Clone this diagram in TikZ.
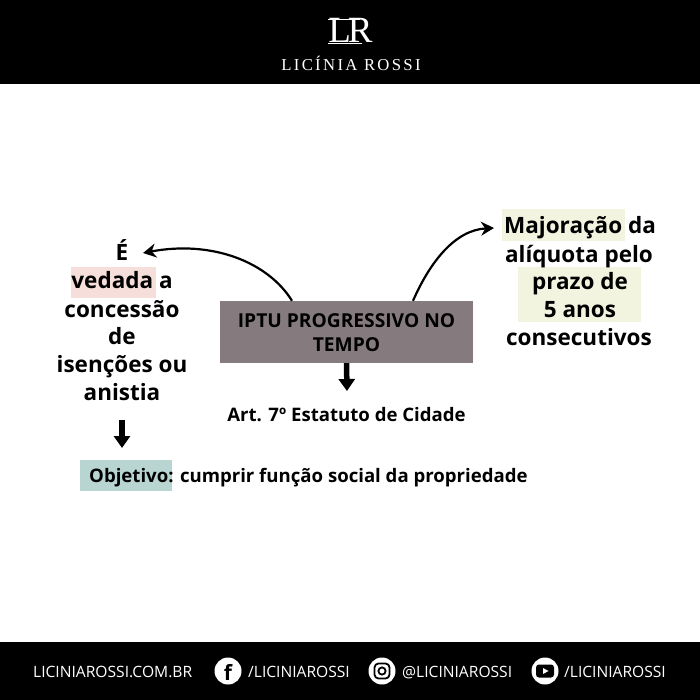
\documentclass[tikz,border=0pt]{standalone}
\usepackage{fontspec}
\setmainfont{Open Sans}
\newfontfamily\serifname[LetterSpace=14]{Liberation Serif}
\newfontfamily\logofont{Liberation Serif}
\newfontfamily\footfont{Open Sans}
\usetikzlibrary{arrows.meta}
\definecolor{boxgray}{HTML}{857B7E}
\definecolor{pinkhl}{HTML}{F6DFDA}
\definecolor{greenhl}{HTML}{B9D5D1}
\definecolor{limehl}{HTML}{F2F4E0}
\tikzset{
  bigtext/.style={anchor=base, inner sep=0pt, font=\fontsize{22.5}{26}\selectfont\bfseries},
  midtext/.style={anchor=base, inner sep=0pt, font=\fontsize{18.6}{22}\selectfont\bfseries},
  boxtext/.style={anchor=base, inner sep=0pt, font=\fontsize{19.2}{22}\selectfont\bfseries},
  foottext/.style={anchor=base west, inner sep=0pt, text=white, font=\fontsize{15.6}{18}\selectfont\footfont},
  iconback/.style={circle, fill=white, minimum size=27pt, inner sep=0pt},
  curved/.style={line width=2.2pt, -{Stealth[length=13pt, width=14pt]}},
  downarrow/.style={line width=5.5pt, -{Triangle[length=12pt, width=16pt]}}
}
\begin{document}
\begin{tikzpicture}[x=1pt, y=-1pt]
  \useasboundingbox (0, 0) rectangle (700, 700);
  \fill[white] (0, 0) rectangle (700, 700);

  % bands
  \fill[black] (0, 0) rectangle (700, 84);
  \fill[black] (0, 642) rectangle (700, 700);

  % logo
  \node[anchor=base, inner sep=0pt, text=white, font=\fontsize{37}{37}\selectfont\logofont] (logo) at (350.5, 43) {L\kern-3ptR};
  \draw[white, line width=0.6pt] (328, 19)--(360, 19);
  \draw[white, line width=0.6pt] (328, 43)--(362, 43);
  \node[anchor=base, inner sep=0pt, text=white, font=\fontsize{16.7}{18}\selectfont\serifname] (name) at (351, 71) {LICÍNIA ROSSI};

  % highlights
  \fill[pinkhl] (71, 267) rectangle (156, 298);
  \fill[greenhl] (80, 460) rectangle (172, 491);
  \fill[limehl] (502, 209) rectangle (625, 241);
  \fill[limehl] (518, 267) rectangle (641, 322);

  % center
  \node[fill=boxgray, minimum width=253pt, minimum height=62pt, inner sep=0pt] (iptu) at (346.5, 332) {};
  \node[boxtext] (iptua) at (346.5, 327) {IPTU PROGRESSIVO NO};
  \node[boxtext] (iptub) at (346.5, 351) {TEMPO};
  \node[midtext] (art) at (346.5, 421) {Art. 7º Estatuto de Cidade};

  % left
  \node[bigtext] (e) at (122, 261) {É};
  \node[bigtext] (vedada) at (122, 288) {vedada a};
  \node[bigtext] (concessao) at (122, 317) {concessão};
  \node[bigtext] (de) at (122, 344) {de};
  \node[bigtext] (isencoes) at (122, 372) {isenções ou};
  \node[bigtext] (anistia) at (122, 400) {anistia};
  \node[midtext, anchor=base west] (objetivo) at (89, 482) {Objetivo: cumprir função social da propriedade};

  % right
  \node[bigtext] (majoracao) at (580, 234) {Majoração da};
  \node[bigtext] (aliquota) at (579, 262) {alíquota pelo};
  \node[bigtext] (prazo) at (580, 289) {prazo de};
  \node[bigtext] (anos) at (580, 317) {5 anos};
  \node[bigtext] (consecutivos) at (579, 345) {consecutivos};

  % arrows
  \coordinate (lefttip) at (143, 253);
  \coordinate (righttip) at (494, 228);
  \draw[curved] (iptu.north -| 292, 0) .. controls (268, 262) and (212, 240) .. (lefttip);
  \draw[curved] (iptu.north -| 413, 0) .. controls (430, 262) and (455, 230) .. (righttip);
  \draw[downarrow] (iptu.south) -- (347, 391);
  \draw[downarrow] (122, 420) -- (122, 448);

  % footer
  \node[foottext] (site) at (33, 677) {LICINIAROSSI.COM.BR};
  \node[iconback] (fb) at (228, 671) {};
  \node[font=\fontsize{21}{21}\selectfont\bfseries, inner sep=0pt] (fbf) at (228, 672) {f};
  \node[foottext] (fbtext) at (248, 677) {/LICINIAROSSI};
  \node[iconback] (ig) at (382, 671) {};
  \draw[black, line width=1.8pt, rounded corners=4pt] (374.5, 663.5) rectangle (389.5, 678.5);
  \draw[black, line width=1.8pt] (382, 671) circle (3.6);
  \node[foottext] (igtext) at (402, 677) {@LICINIAROSSI};
  \node[iconback] (yt) at (545, 671) {};
  \fill[black, rounded corners=3pt] (536, 664.5) rectangle (554, 677.5);
  \fill[white] (543, 668) -- (548.5, 671) -- (543, 674) -- cycle;
  \node[foottext] (yttext) at (564, 677) {/LICINIAROSSI};
\end{tikzpicture}
\end{document}
